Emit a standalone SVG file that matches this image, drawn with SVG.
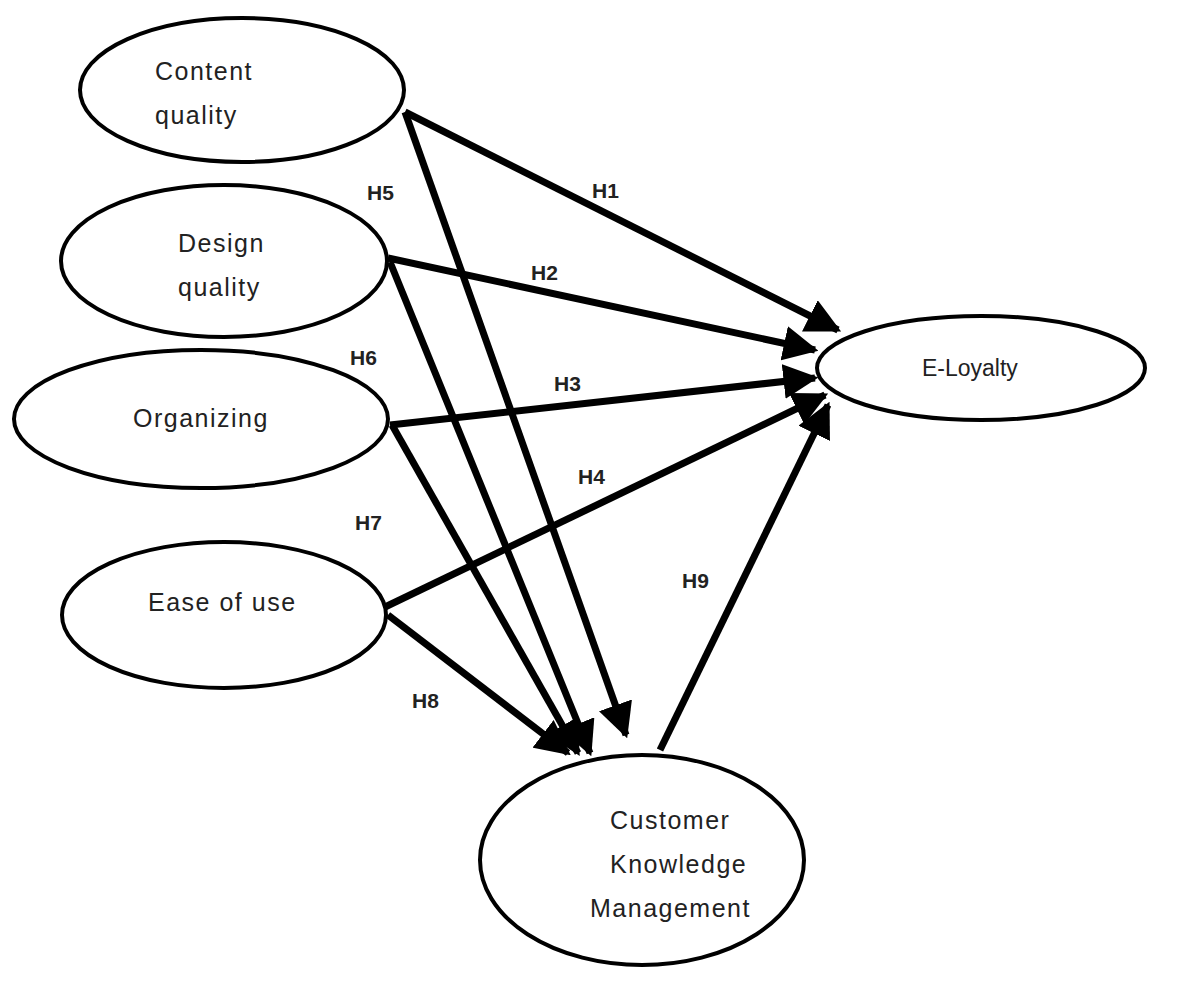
<svg xmlns="http://www.w3.org/2000/svg" width="1181" height="989" viewBox="0 0 1181 989">
<style>
.n{fill:#fff;stroke:#000;stroke-width:4}
.t{font-family:"Liberation Sans",Arial,sans-serif;font-size:25px;letter-spacing:1.5px;fill:#222}
.h{font-family:"Liberation Sans",Arial,sans-serif;font-size:21px;font-weight:bold;fill:#222}
.c line{stroke:#000;stroke-width:7;marker-end:url(#a)}
</style>
<defs><marker id="a" markerUnits="strokeWidth" markerWidth="5" markerHeight="5" refX="4.5" refY="2.5" orient="auto"><path d="M0,0 L5,2.5 L0,5 Z" fill="#000"/></marker></defs>
<rect width="1181" height="989" fill="#fff"/>
<g id="n1"><ellipse class="n" cx="242" cy="90" rx="162" ry="72"/><text class="t" x="155" y="80">Content</text><text class="t" x="155" y="124">quality</text></g>
<g id="n2"><ellipse class="n" cx="224" cy="261" rx="163" ry="76"/><text class="t" x="178" y="252">Design</text><text class="t" x="178" y="296">quality</text></g>
<g id="n3"><ellipse class="n" cx="201" cy="419" rx="187" ry="69"/><text class="t" x="133" y="427">Organizing</text></g>
<g id="n4"><ellipse class="n" cx="224" cy="615" rx="162" ry="73"/><text class="t" x="148" y="611">Ease of use</text></g>
<g id="n5"><ellipse class="n" cx="981" cy="368" rx="164" ry="52"/><text class="t" x="922" y="376" style="font-size:23px;letter-spacing:0">E-Loyalty</text></g>
<g id="n6"><ellipse class="n" cx="642" cy="860" rx="162" ry="105"/><text class="t" x="610" y="829">Customer</text><text class="t" x="610" y="873">Knowledge</text><text class="t" x="590" y="917">Management</text></g>
<g class="c">
<line x1="405" y1="112" x2="838" y2="330"/>
<line x1="405" y1="112" x2="626" y2="735"/>
<line x1="388" y1="258" x2="815" y2="350"/>
<line x1="390" y1="262" x2="590" y2="753"/>
<line x1="390" y1="425" x2="815" y2="378"/>
<line x1="392" y1="425" x2="578" y2="753"/>
<line x1="385" y1="607" x2="825" y2="395"/>
<line x1="388" y1="615" x2="568" y2="753"/>
<line x1="660" y1="750" x2="828" y2="405"/>
</g>
<g>
<text class="h" x="367" y="200">H5</text><text class="h" x="592" y="198">H1</text>
<text class="h" x="531" y="280">H2</text><text class="h" x="350" y="365">H6</text>
<text class="h" x="554" y="391">H3</text><text class="h" x="578" y="484">H4</text>
<text class="h" x="355" y="530">H7</text><text class="h" x="682" y="588">H9</text>
<text class="h" x="412" y="708">H8</text>
</g>
</svg>
